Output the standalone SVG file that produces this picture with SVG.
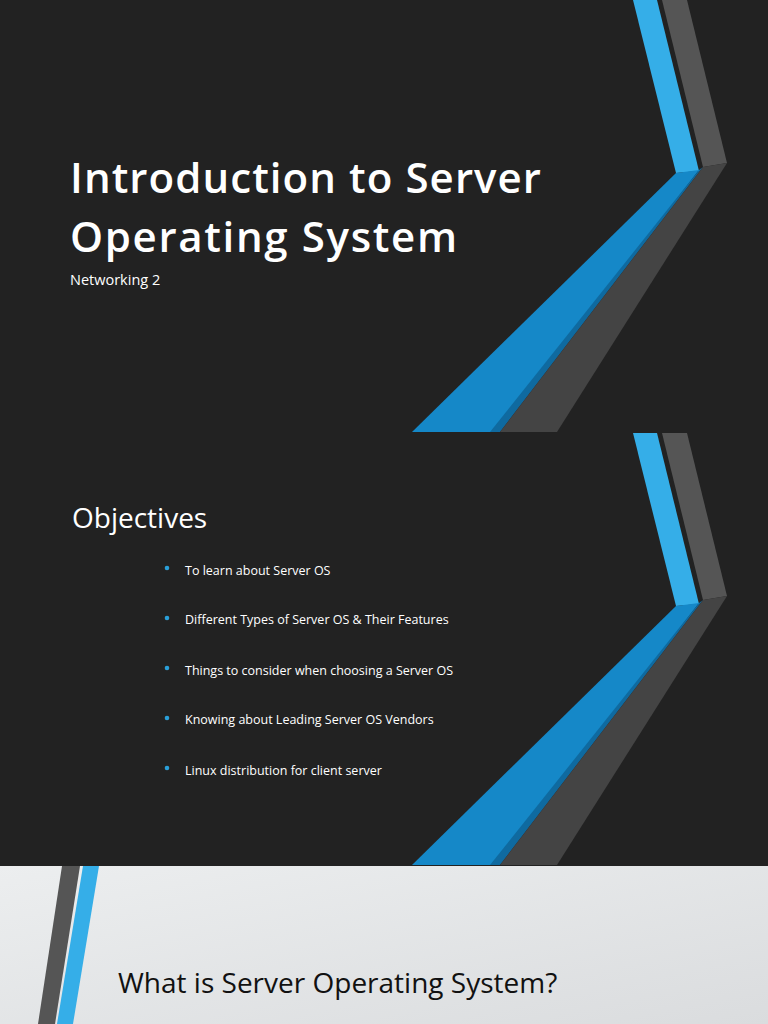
<svg xmlns="http://www.w3.org/2000/svg" width="768" height="1024" viewBox="0 0 768 1024">
<defs>
<linearGradient id="lg" x1="0" y1="0" x2="1" y2="1"><stop offset="0" stop-color="#eceeef"/><stop offset="1" stop-color="#dadcde"/></linearGradient>
<g id="deco">
<polygon points="633,0 657,0 699,171 676,173" fill="#35aee8"/>
<polygon points="662,0 687,0 727,163 703,167" fill="#555555"/>
<polygon points="676,173 699,170 497,432 412,432" fill="#1588c8"/>
<polygon points="699,170 703,167 500,432 490,432" fill="#0f6aa0"/>
<polygon points="703,167 727,163 557,432 500,432" fill="#444444"/>
</g>
</defs>
<style>
.t{font-family:"Open Sans","Noto Sans",sans-serif;fill:#ffffff}
.b{font-family:"Open Sans","Noto Sans",sans-serif;fill:#ffffff;font-size:12.5px}
.d{fill:#2a9fd8}
</style>
<rect x="0" y="0" width="768" height="1024" fill="#222222"/>
<g id="slide1">
<rect x="0" y="0" width="768" height="433" fill="#222222"/>
<use href="#deco"/>
<text class="t" x="70" y="193" font-size="42" font-weight="600" textLength="471">Introduction to Server</text>
<text class="t" x="70" y="252" font-size="42" font-weight="600" textLength="387">Operating System</text>
<text class="t" x="70" y="285" font-size="14.5">Networking 2</text>
</g>
<g id="slide2">
<rect x="0" y="433" width="768" height="432" fill="#222222"/>
<use href="#deco" y="433"/>
<text class="t" x="72" y="528" font-size="28">Objectives</text>
<circle class="d" cx="167" cy="568" r="2.3"/><text class="b" x="185" y="575">To learn about Server OS</text>
<circle class="d" cx="167" cy="618" r="2.3"/><text class="b" x="185" y="624">Different Types of Server OS &amp; Their Features</text>
<circle class="d" cx="167" cy="668" r="2.3"/><text class="b" x="185" y="675">Things to consider when choosing a Server OS</text>
<circle class="d" cx="167" cy="718" r="2.3"/><text class="b" x="185" y="724">Knowing about Leading Server OS Vendors</text>
<circle class="d" cx="167" cy="768" r="2.3"/><text class="b" x="185" y="775">Linux distribution for client server</text>
</g>
<g id="slide3">
<rect x="0" y="866" width="768" height="158" fill="url(#lg)"/>
<polygon points="62,866 80,866 55,1024 38,1024" fill="#555555"/>
<polygon points="83,866 99,866 73,1024 57,1024" fill="#35aee8"/>
<text x="118" y="993" font-family="Open Sans, Noto Sans, sans-serif" font-size="28" fill="#111111">What is Server Operating System?</text>
</g>
</svg>
